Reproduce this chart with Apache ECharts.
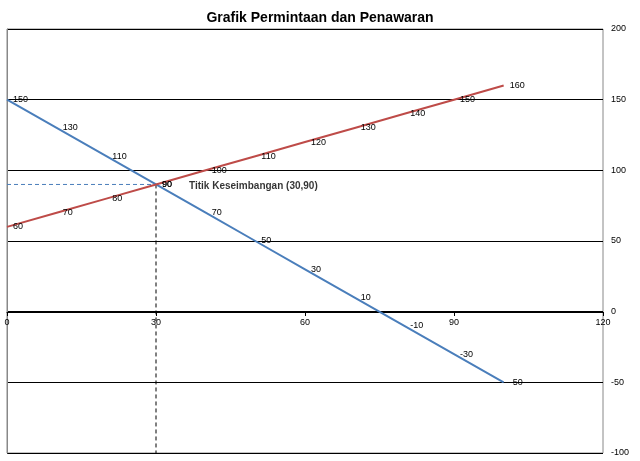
<!DOCTYPE html>
<html><head><meta charset="utf-8">
<script src="https://cdn.jsdelivr.net/npm/echarts@6/dist/echarts.min.js"></script>
<style>html,body{margin:0;padding:0;background:#fff}#c{width:640px;height:461px}</style>
</head><body><div id="c"></div>
<script>
var xValues = [0,10,20,30,40,50,60,70,80,90,100];
var demand = [150,130,110,90,70,50,30,10,-10,-30,-50];
var supply = [60,70,80,90,100,110,120,130,140,150,160];
var equilibrium = [30,90];
var eqLabel = 'Titik Keseimbangan (30,90)';
var title = 'Grafik Permintaan dan Penawaran';

function pairs(v){return xValues.map(function(x,i){return [x,v[i]];});}
var lbl = {show:true,position:'right',fontSize:9,color:'#000',fontFamily:'Liberation Sans',distance:6};
var chart = echarts.init(document.getElementById('c'));
var H = 461-29-8;
chart.setOption({
  animation:false,
  title:{text:title,left:'center',top:6,textStyle:{fontSize:14,fontWeight:'bold',color:'#000',fontFamily:'Liberation Sans'}},
  grid:{left:7,right:37,top:29,bottom:8,show:true,borderColor:'#888',borderWidth:1},
  xAxis:{type:'value',min:0,max:120,interval:30,offset:-Math.round(H/3),
    axisLine:{onZero:false,lineStyle:{color:'#000'}},axisTick:{show:true,length:4,lineStyle:{color:'#000'}},
    axisLabel:{fontSize:9,color:'#000',margin:6},splitLine:{show:false}},
  yAxis:{type:'value',position:'right',min:-100,max:200,interval:50,
    axisLine:{show:true,lineStyle:{color:'#888'}},axisTick:{show:false},
    axisLabel:{fontSize:9,color:'#000',margin:8},splitLine:{lineStyle:{color:'#000',width:1}}},
  series:[
    {type:'line',data:pairs(demand),symbol:'circle',symbolSize:0,lineStyle:{color:'#4a7ebb',width:2},itemStyle:{color:'#4a7ebb'},label:lbl,z:3},
    {type:'line',data:pairs(supply),symbol:'circle',symbolSize:0,lineStyle:{color:'#be4b48',width:2},itemStyle:{color:'#be4b48'},label:lbl,z:3},
    {type:'line',data:[[0,equilibrium[1]],equilibrium],symbol:'none',lineStyle:{color:'#4a7ebb',width:1,type:[4,3]},z:2},
    {type:'line',data:[equilibrium,[equilibrium[0],-100]],symbol:'none',lineStyle:{color:'#000',width:1,type:[4,3]},z:2},
    {type:'scatter',data:[equilibrium],symbolSize:0,label:{show:true,position:'right',distance:33,offset:[0,2],formatter:eqLabel,fontSize:10,fontWeight:'bold',color:'#000',fontFamily:'Liberation Sans'},z:4}
  ]
});
</script></body></html>
